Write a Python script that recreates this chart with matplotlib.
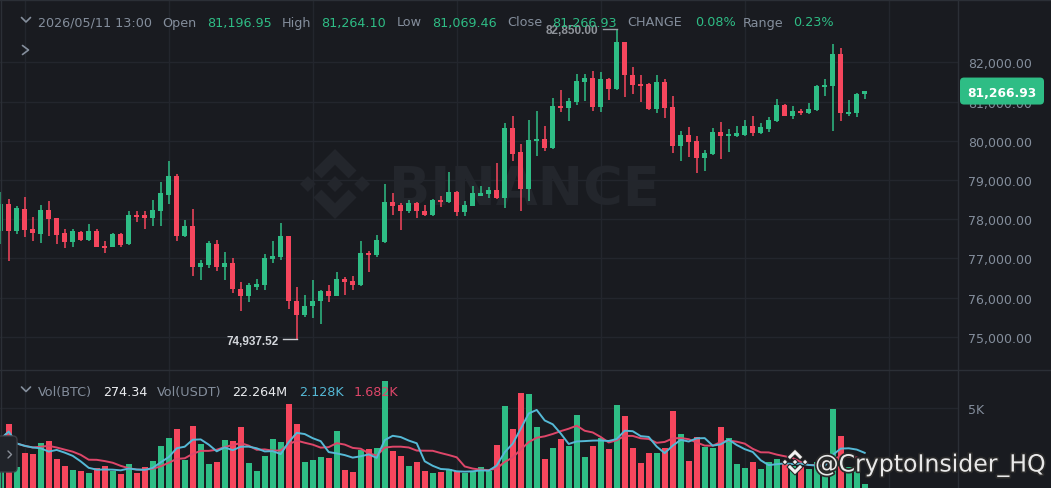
import matplotlib
matplotlib.use("Agg")
import matplotlib.pyplot as plt
import numpy as np
import pandas as pd
from matplotlib.patches import Polygon, FancyBboxPatch
from matplotlib.lines import Line2D
from matplotlib.transforms import blended_transform_factory, IdentityTransform
import matplotlib.patheffects as pe

# ---------------- data (BTC/USDT hourly candles) ----------------
opens = [77690, 78386, 77690, 78259, 77749, 77622, 78242, 78038, 77638, 77409,
         77681, 77477, 77690, 77324, 77300, 77622, 77366, 78106, 78106, 78030,
         78200, 78616, 79109, 77579, 77834, 76772, 76840, 77366, 76788, 76874,
         76219, 76049, 76278, 76321, 76984, 77026, 77579, 75922, 75556, 75777,
         75904, 76160, 76049, 76474, 76423, 76321, 77128, 77086, 77426, 78429,
         78361, 78200, 78404, 78208, 78106, 78490, 78446, 78684, 78174, 78344,
         78599, 78641, 78752, 78531, 80316, 79704, 78769, 79984, 80044, 79814,
         80877, 80826, 80979, 81506, 81600, 80870, 81574, 81319, 82509, 81684,
         81446, 81446, 80809, 81506, 80852, 79874, 80146, 80002, 79551, 79662,
         80231, 80129, 80129, 80154, 80384, 80197, 80299, 80494, 80920, 80639,
         80766, 80707, 80784, 81378, 81404, 82212, 80682, 80707, 81196.95]
highs = [78684, 78514, 78327, 78556, 78046, 78361, 78472, 78038, 77749, 77749,
         77690, 77876, 77749, 77434, 77639, 77639, 78200, 78200, 78200, 78489,
         78939, 79474, 79152, 77978, 78259, 76958, 77434, 77477, 77154, 77001,
         76406, 76364, 76474, 77112, 77452, 77894, 77579, 76262, 76074, 76457,
         76194, 76330, 76661, 76516, 76559, 77434, 77196, 77596, 78896, 78658,
         78412, 78490, 78429, 78370, 78514, 78582, 79194, 78726, 78472, 78837,
         78854, 78828, 79432, 80452, 80622, 79917, 80528, 80750, 80384, 81081,
         81302, 81081, 81702, 81702, 81770, 81761, 81591, 82850, 82526, 81872,
         81676, 81472, 81676, 81574, 81149, 80256, 80358, 80129, 79772, 80316,
         80469, 80299, 80384, 80537, 80639, 80444, 80596, 81064, 80937, 80877,
         80809, 80954, 81421, 81574, 82466, 82356, 81038, 81217, 81270]
lows = [77366, 76942, 77622, 77536, 77434, 77384, 77562, 77366, 77256, 77282,
        77434, 77452, 77282, 77128, 77282, 77300, 77350, 77936, 77749, 77834,
        77834, 78386, 77452, 77536, 76559, 76448, 76746, 76670, 76448, 76108,
        75666, 75879, 76194, 76194, 76874, 76958, 75709, 74937.52, 75496, 75480,
        75326, 75879, 76049, 76066, 76194, 76304, 76644, 77026, 77384, 78106,
        77732, 78157, 78021, 78089, 78089, 78302, 78404, 78089, 78072, 78327,
        78582, 78531, 78514, 78276, 79474, 78200, 78472, 79602, 79730, 79789,
        80724, 80512, 80911, 81022, 80766, 80724, 81038, 81302, 81124, 81192,
        80996, 80792, 80707, 80571, 79678, 79474, 79576, 79177, 79220, 79644,
        79534, 79721, 80104, 80112, 80129, 80171, 80214, 80469, 80622, 80554,
        80656, 80682, 80766, 81132, 80256, 80512, 80622, 80614, 81069.46]
closes = [78386, 77690, 78276, 77724, 77638, 78242, 78004, 77604, 77409, 77690,
          77477, 77690, 77300, 77273, 77622, 77350, 78106, 78046, 78030, 78225,
          78660, 79109, 77579, 77834, 76772, 76874, 77384, 76788, 76874, 76219,
          76049, 76330, 76346, 77001, 77052, 77579, 75904, 75556, 75777, 75922,
          76160, 76049, 76474, 76389, 76321, 77128, 77086, 77468, 78446, 78327,
          78208, 78404, 78200, 78106, 78490, 78429, 78684, 78174, 78361, 78658,
          78658, 78752, 78531, 80316, 79662, 78769, 80027, 80044, 79814, 80894,
          80826, 81004, 81514, 81600, 80870, 81574, 81319, 82509, 81676, 81430,
          81404, 80809, 81506, 80826, 79874, 80146, 79976, 79551, 79687, 80231,
          80112, 80180, 80197, 80384, 80188, 80342, 80528, 80920, 80639, 80766,
          80698, 80809, 81404, 81430, 82212, 80698, 80724, 81192, 81266.93]
volumes = [3060, 4000, 1290, 2190, 2125, 2810, 2960, 1810, 1350, 1125,
           1080, 940, 1230, 1400, 1080, 875, 1500, 920, 1290, 1670,
           2650, 3125, 3690, 1770, 3850, 2750, 1500, 1600, 3000, 2960,
           3830, 1540, 1080, 2020, 3060, 2900, 5250, 4000, 1650, 1770,
           1960, 1850, 3580, 1125, 980, 2375, 2440, 2500, 6670, 2330,
           1980, 1350, 1650, 1040, 920, 980, 1190, 1080, 940, 1020,
           1290, 1080, 2690, 5100, 3690, 5940, 5875, 3790, 1810, 2500,
           3060, 2600, 4580, 1920, 2650, 3100, 2440, 5190, 4520, 2500,
           1560, 2190, 2170, 2480, 4830, 3375, 1670, 3170, 2540, 2480,
           3790, 3125, 1500, 1250, 1600, 1190, 1600, 1810, 1500, 1400,
           1300, 1200, 1600, 1300, 4940, 3270, 1300, 1200, 274.34]

price_ticks = [75000, 76000, 77000, 78000, 79000, 80000, 81000, 82000]
vol_ticks = [5000]
vol_tick_labels = ["5K"]
time_grid = [3, 21, 39, 57, 75, 93, 111]

header_items = [("2026/05/11 13:00", "lab"), ("Open", "lab"), ("81,196.95", "val"),
                ("High", "lab"), ("81,264.10", "val"), ("Low", "lab"), ("81,069.46", "val"),
                ("Close", "lab"), ("81,266.93", "val"), ("CHANGE", "lab"), ("0.08%", "val"),
                ("Range", "lab"), ("0.23%", "val")]
header_x = [37.7, 162, 207, 282, 321, 397, 432, 507, 552, 627, 695, 743, 793]
vol_header = [("Vol(BTC)", "lab"), ("274.34", "white"), ("Vol(USDT)", "lab"),
              ("22.264M", "white"), ("2.128K", "ma5"), ("1.682K", "ma10")]
vol_header_x = [37.7, 102.7, 157, 232, 299, 354]

# ---------------- style ----------------
W, H = 1051, 489
BG = "#191b20"
GRID = "#23262d"
BORDER = "#2b2f36"
UP = "#2ebd85"
DOWN = "#f6465d"
TXT = "#848e9c"
WHITE = "#eaecef"
MA5C = "#55b9d6"
MA10C = "#de4669"
colmap = {"lab": TXT, "val": UP, "white": WHITE, "ma5": MA5C, "ma10": MA10C}

fig = plt.figure(figsize=(W / 100, H / 100), dpi=100)
fig.patch.set_facecolor(BG)


def fx(px):
    return px / W


def fy(py):
    return 1 - py / H


ax = fig.add_axes([0, fy(371), fx(958), 371 / H])
axv = fig.add_axes([0, 0, fx(958), 117 / H])
for a in (ax, axv):
    a.set_facecolor("none")
    for s in a.spines.values():
        s.set_visible(False)
    a.set_xticks([])
    a.set_yticks([])
    a.set_xlim(-0.0875, 119.66)
ax.set_ylim(74154, 83614)
axv.set_ylim(0, 7312.5)

# grid
for p in price_ticks:
    ax.axhline(p, color=GRID, lw=1, zorder=0)
for g in time_grid:
    ax.axvline(g, color=GRID, lw=1, zorder=0)
    axv.axvline(g, color=GRID, lw=1, zorder=0)
for v in vol_ticks:
    axv.axhline(v, color=GRID, lw=1, zorder=0)

# ---------------- watermark ----------------
def logo(cx, cy, size, fc, ec="none", lw=0, z=-1):
    parts = [
        [(38.73, 53.2), (63.32, 28.62), (87.92, 53.22), (102.22, 38.91), (63.32, 0), (24.43, 38.9)],
        [(0, 63.31), (14.3, 49), (28.61, 63.31), (14.3, 77.61)],
        [(38.73, 73.41), (63.32, 98), (87.92, 73.4), (102.23, 87.69), (63.33, 126.6), (24.42, 87.72)],
        [(98, 63.31), (112.3, 49), (126.61, 63.3), (112.3, 77.62)],
        [(77.83, 63.3), (63.32, 48.78), (48.81, 63.28), (63.32, 77.78)],
    ]
    k = size / 126.6
    for part in parts:
        pts = [(fx(cx + (sx - 63.3) * k), fy(cy + (sy - 63.3) * k)) for sx, sy in part]
        fig.add_artist(Polygon(pts, closed=True, transform=fig.transFigure,
                               fc=fc, ec=ec, lw=lw, zorder=z))


logo(335, 185, 70, "#23262c")
fig.text(fx(524), fy(205), "BINANCE", ha="center", va="baseline", fontsize=39,
         fontweight="bold", color="#23262c", zorder=-1)

# ---------------- candles ----------------
o = np.array(opens, float)
h = np.array(highs, float)
l = np.array(lows, float)
c = np.array(closes, float)
x = np.arange(len(o))
cols = [UP if cc >= oo else DOWN for oo, cc in zip(o, c)]
ax.vlines(x, l, h, colors=cols, lw=1.1, zorder=3)
ax.bar(x, np.maximum(np.abs(c - o), 28), bottom=np.minimum(o, c), width=0.68,
       color=cols, linewidth=0, zorder=4)

# high / low markers
hi_i = int(np.argmax(h))
lo_i = int(np.argmin(l))
mk = dict(fontsize=8.5, fontweight="bold", family="Liberation Sans", clip_on=False)
ax.plot([hi_i - 1.75, hi_i], [h[hi_i]] * 2, color="#9a9ea5", lw=1, zorder=5, clip_on=False)
ax.text(hi_i - 2.25, h[hi_i], f"{h[hi_i]:,.2f}", ha="right", va="center_baseline",
        color="#8f939a", zorder=5, **mk)
ax.plot([lo_i - 1.75, lo_i], [l[lo_i]] * 2, color="#c9ccd1", lw=1, zorder=5, clip_on=False)
ax.text(lo_i - 2.3, l[lo_i], f"{l[lo_i]:,.2f}", ha="right", va="center_baseline",
        color="#d3d6db", zorder=5, **mk)

# price axis labels
tr = blended_transform_factory(ax.transAxes, ax.transData)
for p in price_ticks:
    ax.text(968 / 958, p, f"{p:,.2f}", transform=tr, ha="left", va="center_baseline",
            fontsize=9, color=TXT, clip_on=False)

# current price tag
ydisp = ax.transData.transform((0, c[-1]))[1]
fig.add_artist(FancyBboxPatch((960, ydisp - 13.5), 84, 27,
                              boxstyle="round,pad=0,rounding_size=4",
                              transform=IdentityTransform(), fc=UP, ec="none", zorder=2))
fig.text(1002, ydisp, f"{c[-1]:,.2f}", transform=IdentityTransform(), ha="center",
         va="center_baseline", fontsize=8.8, fontweight="bold", color="#ffffff", zorder=3)

# ---------------- volume ----------------
vol = np.array(volumes, float)
axv.bar(x, vol, width=0.74, color=cols, linewidth=0, zorder=2)
ma5 = pd.Series(vol).rolling(5, min_periods=1).mean()
ma10 = pd.Series(vol).rolling(10, min_periods=1).mean()
axv.plot(x, ma10, color=MA10C, lw=1.4, zorder=3)
axv.plot(x, ma5, color=MA5C, lw=1.4, zorder=3)
trv = blended_transform_factory(axv.transAxes, axv.transData)
for v, s in zip(vol_ticks, vol_tick_labels):
    axv.text(968 / 958, v, s, transform=trv, ha="left", va="center_baseline",
             fontsize=9, color=TXT, clip_on=False)

# ---------------- header texts ----------------
for (s, kind), xx in zip(header_items, header_x):
    fig.text(fx(xx), fy(21.5), s, ha="left", va="center_baseline", fontsize=9.2,
             color=colmap[kind])
for (s, kind), xx in zip(vol_header, vol_header_x):
    fig.text(fx(xx), fy(390.7), s, ha="left", va="center_baseline", fontsize=9.2,
             color=colmap[kind])


def chev(pts, color=TXT, lw=1.2):
    fig.add_artist(Line2D([fx(a) for a, b in pts], [fy(b) for a, b in pts],
                          color=color, lw=lw, transform=fig.transFigure, zorder=6,
                          solid_capstyle="round", solid_joinstyle="round"))


chev([(21.5, 18.5), (26, 23), (30.5, 18.5)])
chev([(22.5, 46.5), (28.5, 51), (22.5, 55.5)])
chev([(21.5, 388), (26, 392.5), (30.5, 388)])

# volume-pane side button
fig.add_artist(FancyBboxPatch((-6, H - 473), 23, 36, boxstyle="round,pad=0,rounding_size=4",
                              transform=IdentityTransform(), fc="#202329", ec="#3a3e45",
                              lw=1, zorder=6))
chev([(8, 452), (11.5, 455.5), (8, 459)], color="#8a8f98", lw=1.0)

# borders
for pts in ([(0, 371), (W, 371)], [(958, 0), (958, H)], [(0, 0.5), (W, 0.5)], [(0.5, 0), (0.5, H)]):
    fig.add_artist(Line2D([fx(pts[0][0]), fx(pts[1][0])], [fy(pts[0][1]), fy(pts[1][1])],
                          color=BORDER, lw=1, transform=fig.transFigure, zorder=5))

# user watermark
logo(795, 463, 26, "#f2f2f2", ec="#2a2a2a", lw=0.8, z=7)
fig.text(fx(815), fy(463), "@CryptoInsider_HQ", ha="left", va="center_baseline",
         fontsize=17, color="#e8e8e8", zorder=7,
         path_effects=[pe.withStroke(linewidth=2.5, foreground="#2a2a2a")])

fig.savefig("out.png", dpi=100, facecolor=BG)
